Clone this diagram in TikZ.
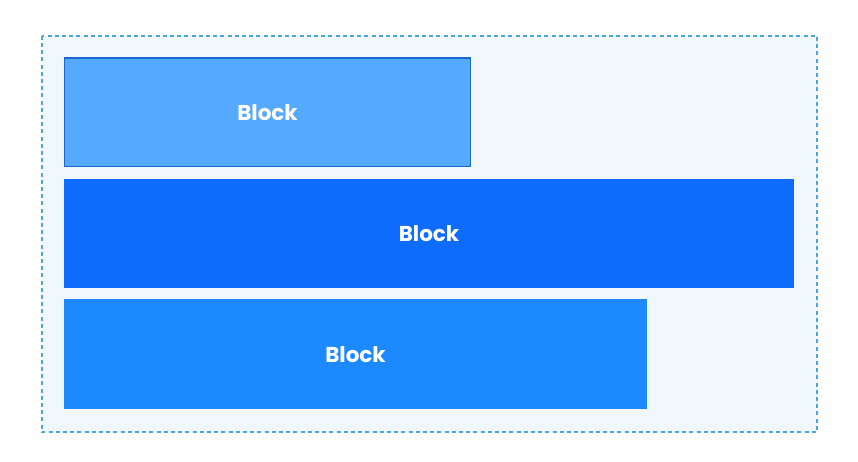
\documentclass[tikz,border=0pt]{standalone}
\usepackage{fontspec}
\setmainfont{Poppins}
\definecolor{outerfill}{HTML}{F0F7FD}
\definecolor{outerline}{HTML}{4BA6DD}
\definecolor{bone}{HTML}{55A9FF}
\definecolor{boneline}{HTML}{1A68CF}
\definecolor{btwo}{HTML}{0E6CFD}
\definecolor{bthree}{HTML}{1D89FF}
\tikzset{
  blk/.style={minimum height=109.5pt, inner sep=0pt, text=white, font=\fontsize{21.5}{24}\selectfont\bfseries},
}
\begin{document}
\begin{tikzpicture}[x=1pt,y=-1pt]
\useasboundingbox (0,0) rectangle (858,461);
\fill[white] (0,0) rectangle (858,461);
\draw[outerline, fill=outerfill, line width=1.8pt, dash pattern=on 4pt off 3.2pt] (41.7,35.7) rectangle (816.7,432);
\node[blk, fill=bone, draw=boneline, line width=1.6pt, minimum width=406pt, minimum height=108.5pt] (b1) at (267.5,112.4) {Block};
\node[blk, fill=btwo, minimum width=730pt, minimum height=108.7pt] (b2) at (429,233.4) {Block};
\node[blk, fill=bthree, minimum width=583pt, minimum height=110.3pt] (b3) at (355.5,354.2) {Block};
\end{tikzpicture}
\end{document}
